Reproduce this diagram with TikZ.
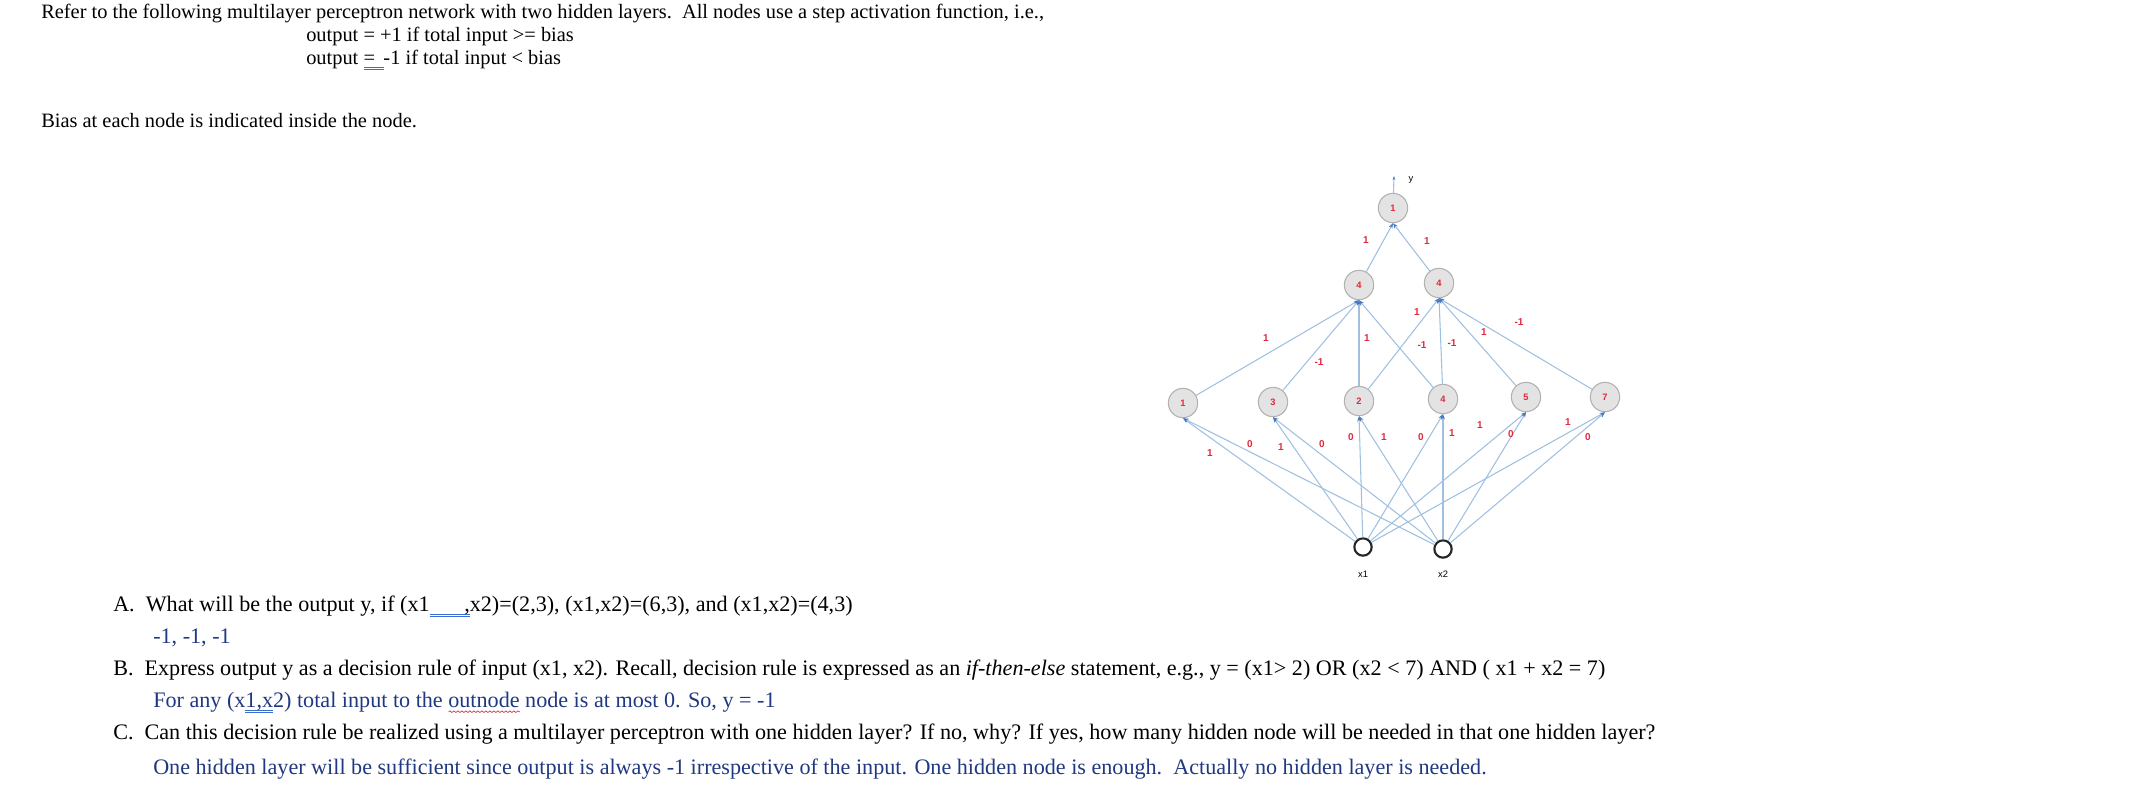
\documentclass[tikz,border=0pt]{standalone}
\usepackage{fontspec}
\setmainfont{Liberation Serif}
\setsansfont{Liberation Sans}
\usetikzlibrary{arrows.meta,decorations.pathmorphing}
\definecolor{edgeblue}{RGB}{160,192,225}
\definecolor{tipblue}{RGB}{70,120,190}
\definecolor{wred}{RGB}{225,40,60}
\definecolor{ansblue}{RGB}{31,56,130}
\definecolor{ulblue}{RGB}{60,110,210}
\newcommand\dblul[1]{\setbox0\hbox{#1}\rlap{\color{ulblue}\rule[-2.6pt]{\wd0}{0.5pt}}\rlap{\color{ulblue}\rule[-4.4pt]{\wd0}{0.5pt}}\box0\relax}
\newcommand\wavyul[1]{\setbox0\hbox{#1}\rlap{\tikz[baseline=0pt,x=1pt,y=1pt]\draw[wred,line width=0.5pt,decorate,decoration={snake,amplitude=0.6pt,segment length=3pt}] (0,-3.5pt) -- (\wd0,-3.5pt);}\box0\relax}
\begin{document}
\begin{tikzpicture}[x=0.75pt,y=-0.75pt,
  txt/.style={anchor=base west,inner sep=0pt,font=\fontsize{15.3}{17}\selectfont},
  qtxt/.style={anchor=base west,inner sep=0pt,font=\fontsize{16.6}{18}\selectfont},
  ans/.style={qtxt,text=ansblue},
  hid/.style={circle,draw=gray!60,fill=gray!22,line width=0.8pt,minimum size=22pt,inner sep=0pt,text=wred,font=\fontsize{7}{8}\sffamily\bfseries},
  inp/.style={circle,draw=black!85,line width=1.6pt,minimum size=13pt,inner sep=0pt},
  wl/.style={inner sep=0pt,text=wred,font=\fontsize{7.5}{8}\sffamily\bfseries},
  lbl/.style={inner sep=0pt,font=\fontsize{7}{8}\sffamily},
  edge/.style={draw=edgeblue,line width=0.8pt,-{Stealth[length=4pt,width=3pt,color=tipblue]}}]
\useasboundingbox (0,0) rectangle (2140,797);
% text
\node[txt] (t1) at (41,18) {Refer to the following multilayer perceptron network with two hidden layers.\ \ All nodes use a step activation function, i.e.,};
\node[txt] (t2) at (306,41) {output = +1 if total input >= bias};
\node[txt] (t3) at (306,64) {output \dblul{=\ \,}-1 if total input < bias};
\node[txt] (t4) at (41,127) {Bias at each node is indicated inside the node.};
\node[qtxt] (qa) at (113,611) {A.\ \ What will be the output y, if (x1\dblul{\hspace{26pt},}x2)=(2,3), (x1,x2)=(6,3), and (x1,x2)=(4,3)};
\node[ans] (aa) at (153,643) {-1, -1, -1};
\node[qtxt] (qb) at (113,675) {B.\ \ Express output y as a decision rule of input (x1, x2). Recall, decision rule is expressed as an \textit{if-then-else} statement, e.g., y = (x1> 2) OR (x2 < 7) AND ( x1 + x2 = 7)};
\node[ans] (ab) at (153,707) {For any (x\dblul{1,x}2) total input to the \wavyul{outnode} node is at most 0. So, y = -1};
\node[qtxt] (qc) at (113,739) {C.\ \ Can this decision rule be realized using a multilayer perceptron with one hidden layer? If no, why? If yes, how many hidden node will be needed in that one hidden layer?};
\node[ans] (ac) at (153,774) {One hidden layer will be sufficient since output is always -1 irrespective of the input. One hidden node is enough.\ \ Actually no hidden layer is needed.};
% network
\node[hid] (o) at (1393,208) {1};
\node[hid] (h21) at (1359,285) {4};
\node[hid] (h22) at (1439,283) {4};
\node[hid] (a1) at (1183,403) {1};
\node[hid] (a3) at (1273,402) {3};
\node[hid] (a2) at (1359,401) {2};
\node[hid] (a4) at (1443,399) {4};
\node[hid] (a5) at (1526,397) {5};
\node[hid] (a7) at (1605,397) {7};
\node[inp] (x1) at (1363,547) {};
\node[inp] (x2) at (1443,549) {};
\node[lbl] (lx1) at (1363,574) {x1};
\node[lbl] (lx2) at (1443,574) {x2};
\coordinate (yend) at (1394,176);
\node[lbl] (ly) at (1411,180) {y};
\foreach \h in {a1,a3,a2,a4,a5,a7}{
  \draw[edge] (x1) -- (\h.south);
  \draw[edge] (x2) -- (\h.south);
}
\foreach \h in {a1,a3,a2,a4}{\draw[edge] (\h) -- (h21.south);}
\foreach \h in {a2,a4,a5,a7}{\draw[edge] (\h) -- (h22.south);}
\draw[edge] (h21) -- (o.south);
\draw[edge] (h22) -- (o.south);
\draw[edge,-{Stealth[length=3pt,width=2pt,color=tipblue]}] (o) -- (yend);
% weight labels
\node[wl] (w1) at (1210,453) {1};
\node[wl] (w2) at (1250,444) {0};
\node[wl] (w3) at (1281,447) {1};
\node[wl] (w4) at (1322,444) {0};
\node[wl] (w5) at (1351,437) {0};
\node[wl] (w6) at (1384,437) {1};
\node[wl] (w7) at (1421,437) {0};
\node[wl] (w8) at (1452,433) {1};
\node[wl] (w9) at (1480,425) {1};
\node[wl] (w10) at (1511,434) {0};
\node[wl] (w11) at (1568,422) {1};
\node[wl] (w12) at (1588,437) {0};
\node[wl] (v1) at (1266,338) {1};
\node[wl] (v2) at (1319,362) {-1};
\node[wl] (v3) at (1367,338) {1};
\node[wl] (v4) at (1422,345) {-1};
\node[wl] (v5) at (1417,312) {1};
\node[wl] (v6) at (1452,343) {-1};
\node[wl] (v7) at (1484,332) {1};
\node[wl] (v8) at (1519,322) {-1};
\node[wl] (u1) at (1366,240) {1};
\node[wl] (u2) at (1427,241) {1};
\end{tikzpicture}
\end{document}
